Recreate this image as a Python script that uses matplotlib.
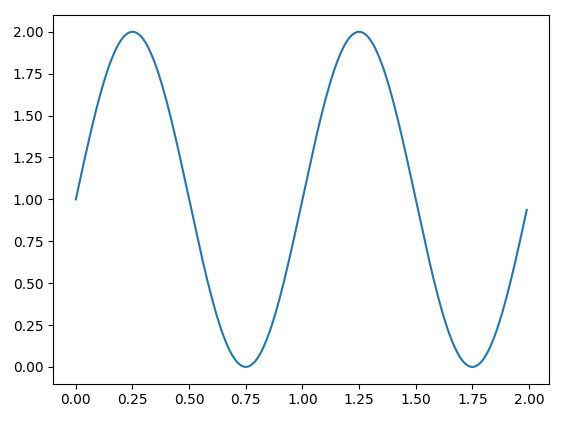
import numpy as np
import matplotlib
matplotlib.use("Agg")
import matplotlib.pyplot as plt

# time samples, 0.00 .. 1.99 in steps of 0.01
t = np.arange(0.0, 2.0, 0.01)

# values (one period, then the second one)
s = [1.000, 1.063, 1.125, 1.187, 1.249, 1.309, 1.368, 1.426, 1.482, 1.536,
     1.588, 1.637, 1.685, 1.729, 1.771, 1.809, 1.844, 1.876, 1.905, 1.930,
     1.951, 1.969, 1.982, 1.992, 1.998, 2.000, 1.998, 1.992, 1.982, 1.969,
     1.951, 1.930, 1.905, 1.876, 1.844, 1.809, 1.771, 1.729, 1.685, 1.637,
     1.588, 1.536, 1.482, 1.426, 1.368, 1.309, 1.249, 1.187, 1.125, 1.063,
     1.000, 0.937, 0.875, 0.813, 0.751, 0.691, 0.632, 0.574, 0.518, 0.464,
     0.412, 0.363, 0.315, 0.271, 0.229, 0.191, 0.156, 0.124, 0.095, 0.070,
     0.049, 0.031, 0.018, 0.008, 0.002, 0.000, 0.002, 0.008, 0.018, 0.031,
     0.049, 0.070, 0.095, 0.124, 0.156, 0.191, 0.229, 0.271, 0.315, 0.363,
     0.412, 0.464, 0.518, 0.574, 0.632, 0.691, 0.751, 0.813, 0.875, 0.937,
     1.000, 1.063, 1.125, 1.187, 1.249, 1.309, 1.368, 1.426, 1.482, 1.536,
     1.588, 1.637, 1.685, 1.729, 1.771, 1.809, 1.844, 1.876, 1.905, 1.930,
     1.951, 1.969, 1.982, 1.992, 1.998, 2.000, 1.998, 1.992, 1.982, 1.969,
     1.951, 1.930, 1.905, 1.876, 1.844, 1.809, 1.771, 1.729, 1.685, 1.637,
     1.588, 1.536, 1.482, 1.426, 1.368, 1.309, 1.249, 1.187, 1.125, 1.063,
     1.000, 0.937, 0.875, 0.813, 0.751, 0.691, 0.632, 0.574, 0.518, 0.464,
     0.412, 0.363, 0.315, 0.271, 0.229, 0.191, 0.156, 0.124, 0.095, 0.070,
     0.049, 0.031, 0.018, 0.008, 0.002, 0.000, 0.002, 0.008, 0.018, 0.031,
     0.049, 0.070, 0.095, 0.124, 0.156, 0.191, 0.229, 0.271, 0.315, 0.363,
     0.412, 0.464, 0.518, 0.574, 0.632, 0.691, 0.751, 0.813, 0.875, 0.937]

W, H = 561, 421
fig = plt.figure(figsize=(W / 100, H / 100), dpi=100)
ax = fig.add_axes([53.3 / W, (H - 383.7) / H, 496 / W, 368.7 / H])

ax.plot(t, s)

fig.savefig("out.png", dpi=100)
